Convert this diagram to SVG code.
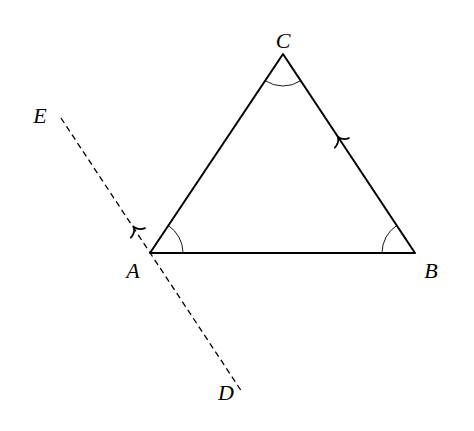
<svg xmlns="http://www.w3.org/2000/svg" width="474" height="431" viewBox="0 0 474 431">
<style>
.tri{fill:none;stroke:#000;stroke-width:2;stroke-linejoin:round}
.dash{fill:none;stroke:#000;stroke-width:1.3;stroke-dasharray:6 4}
.ang{fill:none;stroke:#000;stroke-width:0.9}
.arr{fill:none;stroke:#000;stroke-width:1.8;stroke-linecap:round}
.lbl{font-family:"Liberation Serif","DejaVu Serif",serif;font-style:italic;font-size:22px;fill:#000;text-anchor:middle}
</style>
<defs>
<path id="to" class="arr" d="M -7,-8.5 C -6,-3.5 -2.5,-1 0,0 C -2.5,1 -6,3.5 -7,8.5"/>
</defs>
<rect width="474" height="431" fill="#fff"/>
<g id="connectors">
<path class="tri" d="M 150,253 L 415,253 L 283,54 Z"/>
<line class="dash" x1="61" y1="118" x2="242" y2="392"/>
<use href="#to" transform="translate(338,137) rotate(236.4)"/>
<use href="#to" transform="translate(134,227) rotate(236.4)"/>
<path class="ang" d="M 183,253 A 33 33 0 0 0 168.4,225.6"/>
<path class="ang" d="M 382,253 A 33 33 0 0 1 396.7,225.5"/>
<path class="ang" d="M 265.2,80.6 A 32 32 0 0 0 300.7,80.7"/>
</g>
<g id="A"><text class="lbl" x="133" y="278">A</text></g>
<g id="B"><text class="lbl" x="431" y="278">B</text></g>
<g id="C"><text class="lbl" x="283" y="48">C</text></g>
<g id="E"><text class="lbl" x="40" y="123">E</text></g>
<g id="D"><text class="lbl" x="226" y="400">D</text></g>
</svg>
